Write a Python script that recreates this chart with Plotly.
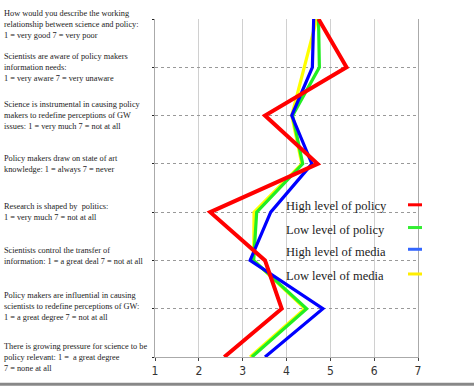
import plotly.graph_objects as go

questions = [
    "How would you describe the working<br>relationship between science and policy:<br>1 = very good 7 = very poor",
    "Scientists are aware of policy makers<br>information needs:<br>1 = very aware 7 = very unaware",
    "Science is instrumental in causing policy<br>makers to redefine perceptions of GW<br>issues: 1 = very much 7 = not at all",
    "Policy makers draw on state of art<br>knowledge: 1 = always 7 = never",
    "Research is shaped by  politics:<br>1 = very much 7 = not at all",
    "Scientists control the transfer of<br>information: 1 = a great deal 7 = not at all",
    "Policy makers are influential in causing<br>scientists to redefine perceptions of GW:<br>1 = a great degree 7 = not at all",
    "There is growing pressure for science to be<br>policy relevant: 1 =  a great degree<br>7 = none at all",
]

series_names = ["High level of policy", "Low level of policy", "High level of media", "Low level of media"]
high_policy = [4.73, 5.37, 3.51, 4.71, 2.26, 3.51, 3.89, 2.58]
low_policy = [4.73, 4.75, 4.14, 4.37, 3.32, 3.25, 4.46, 3.21]
high_media = [4.62, 4.59, 4.12, 4.58, 3.64, 3.17, 4.83, 3.51]
low_media = [4.69, 4.40, 4.12, 4.35, 3.26, 3.25, 4.42, 3.17]
x_ticks = [1, 2, 3, 4, 5, 6, 7]

line_colors = {"High level of policy": "#ff0000", "Low level of policy": "#22ee22",
               "High level of media": "#0000ff", "Low level of media": "#ffff00"}
legend_colors = ["#ff0000", "#33ee33", "#3366ff", "#ffee00"]
values = {"High level of policy": high_policy, "Low level of policy": low_policy,
          "High level of media": high_media, "Low level of media": low_media}

fig = go.Figure()
draw_order = ["Low level of media", "Low level of policy", "High level of media", "High level of policy"]
for name in draw_order:
    fig.add_trace(go.Scatter(
        x=values[name], y=questions, mode="lines", name=name,
        line=dict(color=line_colors[name], width=4 if name == "High level of policy" else 3.2),
        showlegend=False, hoverinfo="skip"))

L, R, T, B = 155, 56, 19, 29
W, H = 474, 390
pw, ph = W - L - R, H - T - B

label_shift = {0: -5, 5: 4, 6: 2}
annotations = []
for i, q in enumerate(questions):
    annotations.append(dict(
        x=(2 - L) / pw, xref="paper", y=q, yref="y", text=q, showarrow=False,
        xanchor="left", yanchor="middle", align="left", yshift=label_shift.get(i, 0),
        font=dict(family="Liberation Serif, Times New Roman, serif", size=8.3, color="#222")))

legend_text_y = [208, 232, 255, 279]
legend_mark_y = [207, 230, 252, 277]
shapes = []
for name, ty, my, c in zip(series_names, legend_text_y, legend_mark_y, legend_colors):
    annotations.append(dict(
        x=(284 - L) / pw, xref="paper", y=(H - B - ty) / ph, yref="paper", text=name,
        showarrow=False, xanchor="left", yanchor="middle",
        font=dict(family="Liberation Serif, Times New Roman, serif", size=12.5, color="#222")))
    shapes.append(dict(type="line", xref="paper", yref="paper",
                       x0=(408 - L) / pw, x1=(422 - L) / pw,
                       y0=(H - B - my) / ph, y1=(H - B - my) / ph,
                       line=dict(color=c, width=3)))

fig.update_layout(
    width=W, height=H,
    margin=dict(l=L, r=R, t=T, b=B),
    paper_bgcolor="white", plot_bgcolor="white",
    xaxis=dict(range=[1, 7], tickvals=x_ticks, ticktext=[str(v) for v in x_ticks],
               showgrid=True, gridcolor="#d0d0d0", gridwidth=1,
               showline=True, linecolor="#aaaaaa", linewidth=1,
               ticks="outside", ticklen=3, tickcolor="#444",
               tickfont=dict(family="Liberation Sans Narrow, DejaVu Sans Condensed, sans-serif",
                             size=12, color="#333"),
               zeroline=False, fixedrange=True),
    yaxis=dict(type="category", categoryorder="array", categoryarray=questions,
               range=[7, 0], showticklabels=False,
               showgrid=True, gridcolor="#999999", griddash="3px,3px", gridwidth=1,
               showline=True, linecolor="#aaaaaa", linewidth=1, mirror=True,
               ticks="outside", ticklen=2, tickcolor="#222",
               zeroline=False, fixedrange=True),
    annotations=annotations,
    shapes=shapes + [dict(type="rect", xref="paper", yref="paper",
                          x0=-L / pw, x1=(W - L) / pw,
                          y0=-B / ph, y1=-(B - 3) / ph,
                          fillcolor="#888888", line=dict(width=0))],
)

fig.write_html("out.html", config={"displayModeBar": False},
               post_script="document.body.style.margin='0';document.body.style.overflow='hidden';")
